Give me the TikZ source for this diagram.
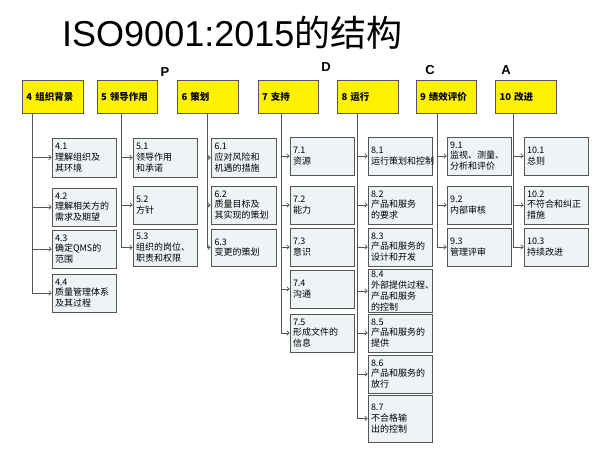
\documentclass[tikz,border=0pt]{standalone}
\usepackage{fontspec}
\setmainfont{Liberation Serif}
\newfontfamily\cjk{Noto Sans CJK SC}
\newfontfamily\titlefont{Liberation Sans}
\usetikzlibrary{arrows.meta}
\definecolor{hdr}{HTML}{FFF200}
\definecolor{subf}{HTML}{EEF3F6}
\definecolor{ln}{HTML}{555555}
\tikzset{
 hbox/.style={draw=ln,line width=0.8pt,fill=hdr,inner sep=2pt,font=\cjk\bfseries\fontsize{9.5}{10}\selectfont,align=left,text width=52pt},
 sbox/.style={draw=ln,line width=0.8pt,fill=subf,inner sep=2pt,font=\cjk\fontsize{9}{10.8}\selectfont,align=left,text width=58pt},
 arr/.style={draw=ln,line width=0.8pt,-{To[length=3pt,width=5pt]}},
 trunk/.style={draw=ln,line width=1pt},
 lett/.style={font=\titlefont\bfseries\fontsize{13}{13}\selectfont}
}
\newcommand{\hdrb}[4]{\node[hbox,minimum width={(#3-#2)*1pt},minimum height=33pt] (#1) at ({(#2+#3)/2},96.5) {#4};}
\newcommand{\subb}[6]{\node[sbox,minimum width={(#4-#2)*1pt},minimum height={(#5-#3)*1pt}] (#1) at ({(#2+#4)/2},{(#3+#5)/2}) {#6};}
\begin{document}
\begin{tikzpicture}[x=1pt,y=-1pt]
\useasboundingbox[fill=white] (0,0) rectangle (600,450);
\node[font=\titlefont\fontsize{36}{36}\selectfont,anchor=west,inner sep=0pt] (title) at (62,33) {ISO9001:2015{\cjk 的结构}};
\node[lett] (P) at (165,72) {P};
\node[lett] (D) at (326,67) {D};
\node[lett] (C) at (430,70) {C};
\node[lett] (A) at (506,70) {A};
\hdrb{h4}{22}{83}{4 组织背景}
\hdrb{h5}{97}{157}{5 领导作用}
\hdrb{h6}{177}{238}{6 策划}
\hdrb{h7}{258}{318}{7 支持}
\hdrb{h8}{337}{398}{8 运行}
\hdrb{h9}{416}{476}{9 绩效评价}
\hdrb{h10}{495}{556}{10 改进}
% col 4
\subb{b41}{52}{138}{116}{177}{4.1\\理解组织及\\其环境}
\subb{b42}{52}{188}{116}{226}{4.2\\理解相关方的\\需求及期望}
\subb{b43}{52}{230}{116}{268}{4.3\\确定QMS的\\范围}
\subb{b44}{52}{274}{116}{312}{4.4\\质量管理体系\\及其过程}
% col 5
\subb{b51}{133}{138}{197}{177}{5.1\\领导作用\\和承诺}
\subb{b52}{133}{186}{197}{224}{5.2\\方针}
\subb{b53}{133}{229}{197}{266}{5.3\\组织的岗位、\\职责和权限}
% col 6
\subb{b61}{211}{138}{276}{177}{6.1\\应对风险和\\机遇的措施}
\subb{b62}{211}{186}{276}{224}{6.2\\质量目标及\\其实现的策划}
\subb{b63}{211}{229}{276}{266}{6.3\\变更的策划}
% col 7
\subb{b71}{290}{137}{354}{175}{7.1\\资源}
\subb{b72}{290}{186}{354}{224}{7.2\\能力}
\subb{b73}{290}{228}{354}{266}{7.3\\意识}
\subb{b74}{290}{270}{354}{308}{7.4\\沟通}
\subb{b75}{290}{314}{354}{352}{7.5\\形成文件的\\信息}
% col 8
\subb{b81}{368}{137}{432}{175}{8.1\\运行策划和控制}
\subb{b82}{368}{186}{432}{224}{8.2\\产品和服务\\的要求}
\subb{b83}{368}{228}{432}{266}{8.3\\产品和服务的\\设计和开发}
\subb{b84}{368}{272}{432}{310}{8.4\\外部提供过程、\\产品和服务\\的控制}
\subb{b85}{368}{314}{432}{352}{8.5\\产品和服务的\\提供}
\subb{b86}{368}{355}{432}{393}{8.6\\产品和服务的\\放行}
\subb{b87}{368}{395}{432}{442}{8.7\\不合格输\\出的控制}
% col 9
\subb{b91}{447}{137}{511}{175}{9.1\\监视、测量、\\分析和评价}
\subb{b92}{447}{186}{511}{224}{9.2\\内部审核}
\subb{b93}{447}{228}{511}{266}{9.3\\管理评审}
% col 10
\subb{b101}{524}{137}{588}{175}{10.1\\总则}
\subb{b102}{524}{186}{588}{224}{10.2\\不符合和纠正\\措施}
\subb{b103}{524}{228}{588}{266}{10.3\\持续改进}
% trunks
\coordinate (t4) at (32,113.5);
\coordinate (t5) at (121,113.5);
\coordinate (t6) at (207,113.5);
\coordinate (t7) at (281,113.5);
\coordinate (t8) at (357,113.5);
\coordinate (t9) at (437,113.5);
\coordinate (t10) at (513,113.5);
\draw[trunk] (t4) -- (t4 |- b44.west);
\foreach \b in {b41,b42,b43,b44} \draw[arr] (t4 |- \b.west) -- (\b.west);
\draw[trunk] (t5) -- (t5 |- b53.west);
\foreach \b in {b51,b52,b53} \draw[arr] (t5 |- \b.west) -- (\b.west);
\draw[trunk] (t6) -- (t6 |- b63.west);
\foreach \b in {b61,b62,b63} \draw[arr] (t6 |- \b.west) -- (\b.west);
\draw[trunk] (t7) -- (t7 |- b75.west);
\foreach \b in {b71,b72,b73,b74,b75} \draw[arr] (t7 |- \b.west) -- (\b.west);
\draw[trunk] (t8) -- (t8 |- b87.west);
\foreach \b in {b81,b82,b83,b84,b85,b86,b87} \draw[arr] (t8 |- \b.west) -- (\b.west);
\draw[trunk] (t9) -- (t9 |- b93.west);
\foreach \b in {b91,b92,b93} \draw[arr] (t9 |- \b.west) -- (\b.west);
\draw[trunk] (t10) -- (t10 |- b103.west);
\foreach \b in {b101,b102,b103} \draw[arr] (t10 |- \b.west) -- (\b.west);
\end{tikzpicture}
\end{document}
